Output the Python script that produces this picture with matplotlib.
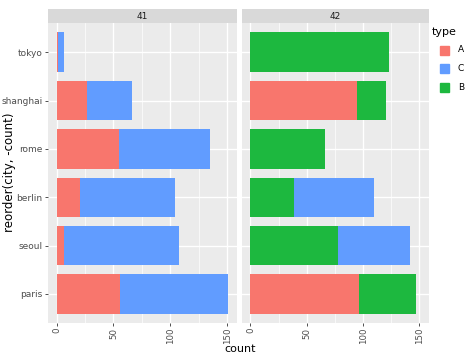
import numpy as np
import matplotlib
matplotlib.use('Agg')
import matplotlib.pyplot as plt

cities = ['paris', 'seoul', 'berlin', 'rome', 'shanghai', 'tokyo']
facets = ['41', '42']
type_order = ['A', 'B', 'C']      # stacking order, left to right
legend_order = ['A', 'C', 'B']
colors = {'A': '#F8766D', 'B': '#1DB83F', 'C': '#619CFF'}

# counts per city (same order as cities)
a_41 = [56, 7, 21, 55, 27, 1]
b_41 = [0, 0, 0, 0, 0, 0]
c_41 = [95, 101, 83, 80, 39, 5.5]
a_42 = [96, 0, 0, 0, 94.5, 0]
b_42 = [51, 78, 38.5, 66, 25.5, 123]
c_42 = [0, 63.5, 71.5, 0, 0, 0]

counts = {'41': {'A': a_41, 'B': b_41, 'C': c_41},
          '42': {'A': a_42, 'B': b_42, 'C': c_42}}

W, H = 474, 353
fig = plt.figure(figsize=(W / 100, H / 100), dpi=100)

panel_x = [(48, 237), (242, 429)]
p_top, p_bot = 23.3, 323
strip_top = 9.3
tick_col = '#4D4D4D'

y = np.arange(len(cities))
for k, f in enumerate(facets):
    x0, x1 = panel_x[k]
    ax = fig.add_axes([x0 / W, 1 - p_bot / H, (x1 - x0) / W, (p_bot - p_top) / H])
    ax.set_facecolor('#EBEBEB')
    left = np.zeros(len(cities))
    for t in type_order:
        vals = np.array(counts[f][t], dtype=float)
        ax.barh(y, vals, left=left, height=0.82, color=colors[t], zorder=3)
        left += vals
    ax.set_xlim(-7.5, 158.6)
    ax.set_ylim(-0.6, len(cities) - 0.4)
    ax.set_xticks([0, 50, 100, 150])
    ax.set_xticks([25, 75, 125], minor=True)
    ax.set_yticks(y)
    ax.grid(which='major', color='white', linewidth=1.0, zorder=0)
    ax.grid(which='minor', axis='x', color='white', linewidth=0.5, zorder=0)
    ax.tick_params(axis='x', which='major', labelsize=6.2, labelcolor=tick_col,
                   color='#333333', length=2.5, width=0.6, labelrotation=90, pad=1)
    ax.tick_params(which='minor', length=0)
    if k == 0:
        ax.set_yticklabels(cities)
        ax.tick_params(axis='y', labelsize=6.5, labelcolor=tick_col,
                       color='#333333', length=2.5, width=0.6, pad=1.5)
    else:
        ax.set_yticklabels([])
        ax.tick_params(axis='y', length=0)
    for s in ax.spines.values():
        s.set_visible(False)

    sax = fig.add_axes([x0 / W, 1 - p_top / H, (x1 - x0) / W, (p_top - strip_top) / H])
    sax.set_facecolor('#D9D9D9')
    sax.set_xticks([])
    sax.set_yticks([])
    for s in sax.spines.values():
        s.set_visible(False)
    sax.text(0.5, 0.5, f, ha='center', va='center', fontsize=6.5, color='#1A1A1A',
             transform=sax.transAxes)

fig.text(240 / W, 1 - 348.5 / H, 'count', ha='center', va='center', fontsize=8)
fig.text(10 / W, 1 - 172 / H, 'reorder(city, -count)', ha='center', va='center',
         rotation=90, fontsize=8.5)

# legend
fig.text(432 / W, 1 - 32 / H, 'type', ha='left', va='center', fontsize=8)
for i, t in enumerate(legend_order):
    yc = 50 + i * 18.5
    fig.patches.append(plt.Rectangle((440 / W, 1 - (yc + 4.5) / H), 9 / W, 9 / H,
                                     color=colors[t], transform=fig.transFigure))
    fig.text(458 / W, 1 - yc / H, t, ha='left', va='center', fontsize=6.5)

fig.savefig('out.png', dpi=100)
